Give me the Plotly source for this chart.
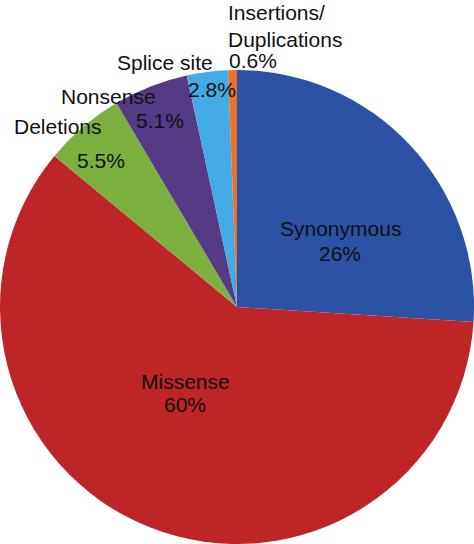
import plotly.graph_objects as go

categories = ["Synonymous", "Missense", "Deletions", "Nonsense", "Splice site", "Insertions/<br>Duplications"]
values = [26, 60, 5.5, 5.1, 2.8, 0.6]
pct_labels = ["26%", "60%", "5.5%", "5.1%", "2.8%", "0.6%"]
colors = ["#2C52A5", "#BE2527", "#7DAF3F", "#553A86", "#43AAE6", "#E8722C"]

W, H = 474, 544

fig = go.Figure(go.Pie(
    labels=categories,
    values=values,
    sort=False,
    direction="clockwise",
    rotation=0,
    marker=dict(colors=colors, line=dict(width=0)),
    textinfo="none",
    hoverinfo="label+percent",
    domain=dict(x=[0, 1], y=[0, (H - 70) / H]),
    showlegend=False,
))

font = dict(family="Liberation Sans, Arial, sans-serif", size=21, color="#111111")

# label placements: (name x, name y, x-anchor, y-anchor, pct x, pct y, pct x-anchor)
label_pos = [
    (340, 228, "center", "middle", 340, 253, "center"),
    (185, 381, "center", "middle", 185, 404, "center"),
    (58, 126, "center", "middle", 101, 161, "center"),
    (108, 96, "center", "middle", 160, 120, "center"),
    (165, 62, "center", "middle", 212, 90, "center"),
    (227, 0, "left", "top", 227, 60, "left"),
]

annotations = []
for cat, pct, (nx, ny, na, nya, px, py, pa) in zip(categories, pct_labels, label_pos):
    annotations.append(dict(x=nx / W, y=1 - ny / H, xref="paper", yref="paper",
                            text=cat, showarrow=False, xanchor=na, yanchor=nya,
                            align="left", borderpad=0, font=font))
    annotations.append(dict(x=px / W, y=1 - py / H, xref="paper", yref="paper",
                            text=pct, showarrow=False, xanchor=pa, yanchor="middle",
                            font=font))

fig.update_layout(
    width=W, height=H,
    margin=dict(l=0, r=0, t=0, b=0),
    paper_bgcolor="white",
    plot_bgcolor="white",
    annotations=annotations,
)

fig.write_html("out.html",
               config={"displayModeBar": False},
               post_script="document.body.style.margin='0';document.body.style.overflow='hidden';")
